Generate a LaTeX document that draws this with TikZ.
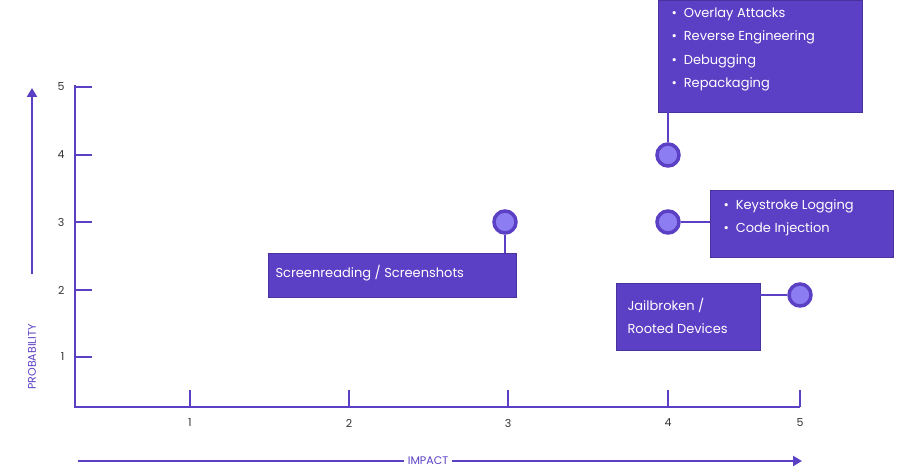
\documentclass[tikz,border=0pt]{standalone}
\usepackage{fontspec}
\setmainfont{Poppins}
\usetikzlibrary{arrows.meta}
\definecolor{riskpurple}{HTML}{5B3FC4}
\definecolor{risklight}{HTML}{8C7EF2}
\tikzset{
  axis/.style={riskpurple, line width=2.4pt},
  tick/.style={riskpurple, line width=2.4pt},
  ticklbl/.style={font=\fontsize{11}{13}\selectfont, text=black!80},
  riskbox/.style={fill=riskpurple, draw=riskpurple!80!black, text=white, inner sep=0pt, font=\fontsize{13}{18}\selectfont},
  riskdot/.style={circle, fill=risklight, draw=riskpurple, line width=3.5pt, minimum size=22pt, inner sep=0pt},
  link/.style={riskpurple, line width=1.2pt}
}
\begin{document}
\begin{tikzpicture}[x=1pt,y=-1pt]
\useasboundingbox (0,0) rectangle (900,470);
% axes
\coordinate (O) at (75,407);
\draw[axis] (75,85) -- (O) -- (800,407);
\foreach \v/\y in {5/87,4/155,3/222,2/290,1/357}{
  \draw[tick] (75,\y) -- (92,\y);
  \node[ticklbl, anchor=east] (py\v) at (68,\y) {\v};
}
\foreach \v/\x in {1/190,2/349,3/508,4/668,5/800}{
  \draw[tick] (\x,390) -- (\x,407);
  \node[ticklbl] (px\v) at (\x,423) {\v};
}
% axis titles
\node[ticklbl, rotate=90, text=riskpurple] (prob) at (32,357) {PROBABILITY};
\coordinate (ptop) at (32,88);
\coordinate (pbot) at (32,274);
\draw[riskpurple, line width=2pt, -{Triangle[length=9pt,width=10pt]}] (pbot) -- (ptop);
\node[ticklbl, text=riskpurple] (imp) at (428,461) {IMPACT};
\coordinate (il) at (78,461);
\coordinate (ir) at (802,461);
\draw[riskpurple, line width=2pt] (il) -- (imp.west);
\draw[riskpurple, line width=2pt, -{Triangle[length=9pt,width=10pt]}] (imp.east) -- (ir);
% boxes
\node[riskbox, minimum width=204pt, minimum height=112pt, anchor=north west] (b1) at (658,0) {};
\node[anchor=north west, text=white, font=\fontsize{13}{23.5}\selectfont, align=left] at (668,4)
  {\textbullet\ \ Overlay Attacks\\ \textbullet\ \ Reverse Engineering\\ \textbullet\ \ Debugging\\ \textbullet\ \ Repackaging};
\node[riskbox, minimum width=183pt, minimum height=67pt, anchor=north west] (b2) at (710,190) {};
\node[anchor=north west, text=white, font=\fontsize{13}{23.5}\selectfont, align=left] at (720,196)
  {\textbullet\ \ Keystroke Logging\\ \textbullet\ \ Code Injection};
\node[riskbox, minimum width=248pt, minimum height=44pt, anchor=north west] (b3) at (268,253) {};
\node[anchor=west, text=white, font=\fontsize{13}{18}\selectfont] at (272,273) {Screenreading / Screenshots};
\node[riskbox, minimum width=144pt, minimum height=67pt, anchor=north west] (b4) at (616,283) {};
\node[anchor=west, text=white, font=\fontsize{13}{23.5}\selectfont, align=left] at (624,316) {Jailbroken /\\ Rooted Devices};
% points
\node[riskdot] (d34) at (505,222) {};
\node[riskdot] (d44) at (668,155) {};
\node[riskdot] (d43) at (668,222) {};
\node[riskdot] (d52) at (800,295) {};
\draw[link] (d44) -- (d44 |- b1.south);
\draw[link] (d43) -- (b2.west |- d43);
\draw[link] (d34) -- (d34 |- b3.north);
\draw[link] (d52) -- (b4.east |- d52);
\end{tikzpicture}
\end{document}
